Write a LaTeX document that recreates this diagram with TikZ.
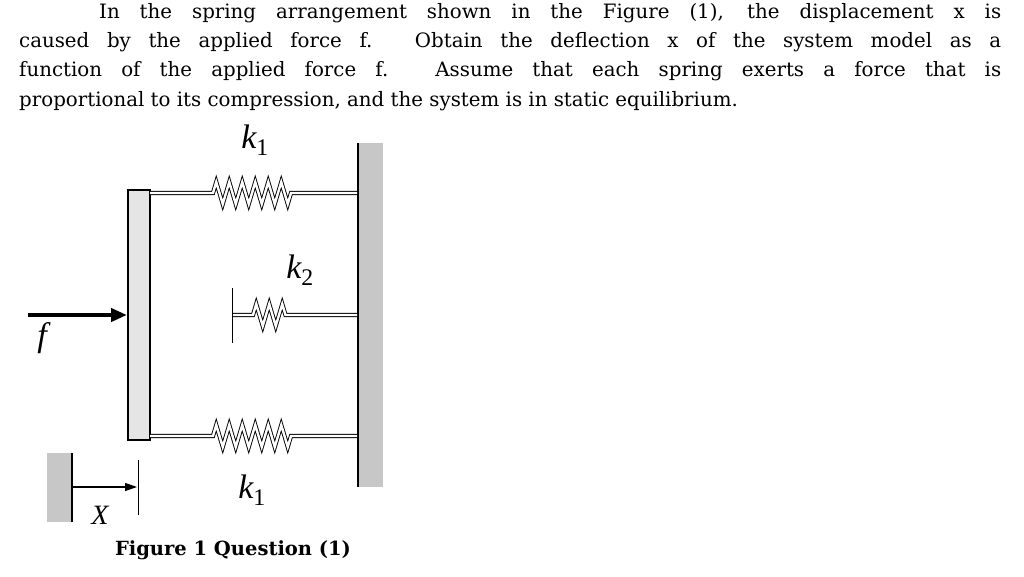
\documentclass[tikz,border=0pt]{standalone}
\usepackage{fontspec}
\setmainfont{Liberation Serif}
\newfontfamily\bodyfont{DejaVu Serif}
\usetikzlibrary{decorations.pathmorphing,arrows.meta}
\begin{document}
\begin{tikzpicture}[x=1pt,y=-1pt,
  rod/.style={double=white,double distance=2.4pt,line width=0.9pt,draw=black},
  sprg/.style={rod,decorate,decoration={zigzag,amplitude=11pt,segment length=13pt,pre length=#1,post length=66pt}},
  lab/.style={font=\fontsize{34}{34}\selectfont\itshape},
  gnd/.style={fill=black!22,draw=none}]
\useasboundingbox (0,0) rectangle (1024,577);
\node[anchor=north west,text width=982pt,align=justify,inner sep=0pt,font=\bodyfont\fontsize{19.8}{29.3}\selectfont] (txt) at (19,3)
{\hspace*{80pt}In the spring arrangement shown in the Figure (1), the displacement x is\linebreak caused by the applied force f. Obtain the deflection x of the system model as a\linebreak function of the applied force f. Assume that each spring exerts a force that is\linebreak proportional to its compression, and the system is in static equilibrium.};
% right wall
\fill[gnd] (358,143) rectangle (383,487);
\draw[line width=2pt] (358,143) -- (358,487);
% bar
\draw[line width=2pt,fill=black!10] (128,190) rectangle (150,440);
\coordinate (t1) at (150,193); \coordinate (t2) at (357,193);
\coordinate (b1) at (150,436); \coordinate (b2) at (357,436);
\coordinate (m1) at (233,315); \coordinate (m2) at (357,315);
\draw[sprg=63pt] (t1) -- (t2);
\draw[sprg=63pt] (b1) -- (b2);
\draw[sprg=20pt] (m1) -- (m2);
\draw[line width=0.8pt] (232,288) -- (232,343);
% force arrow
\coordinate (fa) at (28,315); \coordinate (fb) at (127,315);
\draw[line width=4pt,-{Triangle[length=16pt,width=13pt]}] (fa) -- (fb);
\node[lab] (f) at (42,338) {f};
\node[lab] (ka) at (255,140) {k\textsubscript{\upshape 1}};
\node[lab] (kb) at (300,270) {k\textsubscript{\upshape 2}};
\node[lab] (kc) at (252,490) {k\textsubscript{\upshape 1}};
% ground left
\fill[gnd] (47,453) rectangle (72,522);
\draw[line width=1.5pt] (72,453) -- (72,522);
\draw[line width=0.8pt] (138,460) -- (138,515);
\coordinate (xa) at (73,487); \coordinate (xb) at (137,487);
\draw[line width=1.2pt,-{Triangle[length=12pt,width=8pt]}] (xa) -- (xb);
\node[font=\fontsize{28}{28}\selectfont\itshape] (X) at (100,515) {X};
\node[font=\bodyfont\fontsize{19.5}{20}\selectfont\bfseries] (cap) at (233,550) {Figure 1 Question (1)};
\end{tikzpicture}
\end{document}
